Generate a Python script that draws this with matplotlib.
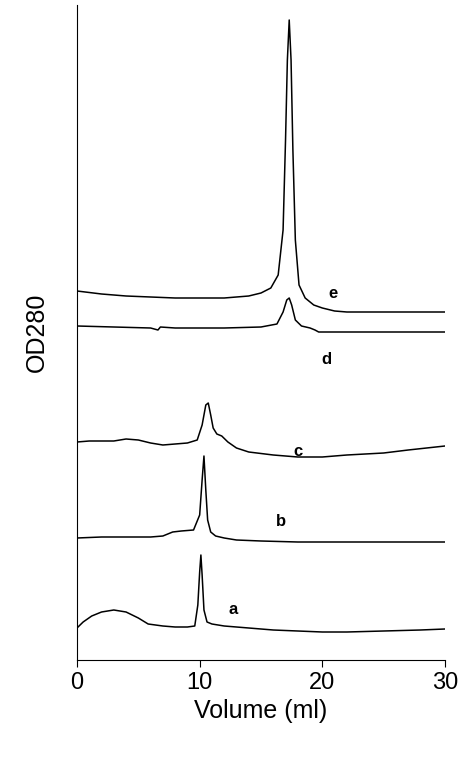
import matplotlib.pyplot as plt

plt.rcParams['font.family'] = ['Liberation Sans', 'DejaVu Sans']

# traces (volume in ml, signal in arbitrary units)
a_x = [0, 0.5, 1.2, 2, 3, 4, 5, 5.8, 7, 8, 9, 9.6, 9.85, 10.0, 10.1, 10.2, 10.35, 10.6, 11, 12, 14, 16, 18, 20, 22, 25, 28, 30]
a_y = [32, 38, 44, 48, 50, 48, 42, 36, 34, 33, 33, 34, 55, 88, 105, 85, 50, 38, 36, 34, 32, 30, 29, 28, 28, 29, 30, 31]

b_x = [0, 2, 4, 6, 7, 7.8, 8.5, 9.5, 10.0, 10.2, 10.35, 10.5, 10.65, 10.9, 11.3, 12, 13, 15, 18, 22, 26, 30]
b_y = [122, 123, 123, 123, 124, 128, 129, 130, 145, 180, 204, 170, 140, 128, 124, 122, 120, 119, 118, 118, 118, 118]

c_x = [0, 1, 2, 3, 4, 5, 6, 7, 8, 9, 9.8, 10.2, 10.5, 10.7, 10.9, 11.1, 11.4, 11.8, 12.3, 13, 14, 16, 18, 20, 22, 25, 27, 30]
c_y = [218, 219, 219, 219, 221, 220, 217, 215, 216, 217, 220, 235, 255, 257, 245, 232, 226, 224, 218, 212, 208, 205, 203, 203, 205, 207, 210, 214]

d_x = [0, 3, 6, 6.6, 6.8, 8, 12, 15, 16.3, 16.8, 17.1, 17.3, 17.5, 17.8, 18.3, 19, 19.4, 19.7, 21, 25, 30]
d_y = [334, 333, 332, 330, 333, 332, 332, 333, 336, 348, 360, 362, 355, 340, 334, 332, 330, 328, 328, 328, 328]

e_x = [0, 2, 4, 6, 8, 10, 12, 14, 15, 15.8, 16.4, 16.8, 17.0, 17.15, 17.3, 17.45, 17.6, 17.8, 18.1, 18.6, 19.3, 20, 21, 22, 25, 30]
e_y = [369, 366, 364, 363, 362, 362, 362, 364, 367, 372, 385, 430, 520, 600, 640, 600, 510, 420, 375, 362, 355, 352, 349, 348, 348, 348]

trace_labels = ['a', 'b', 'c', 'd', 'e']
label_x = [12.7, 16.6, 18.0, 20.3, 20.9]
label_y = [51, 139, 209, 301, 367]

fig = plt.figure(figsize=(4.74, 7.57), dpi=100)
ax = fig.add_axes([77 / 474, 97 / 757, 368 / 474, 655 / 757])

for xs, ys in [(a_x, a_y), (b_x, b_y), (c_x, c_y), (d_x, d_y), (e_x, e_y)]:
    ax.plot(xs, ys, color='black', lw=1.1)

for t, x, y in zip(trace_labels, label_x, label_y):
    ax.text(x, y, t, fontsize=12, fontweight='bold', ha='center', va='center')

ax.set_xlim(0, 30)
ax.set_ylim(0, 655)
ax.set_xticks([0, 10, 20, 30])
ax.set_yticks([])
ax.tick_params(axis='x', labelsize=17, length=5, direction='out')
ax.spines['top'].set_visible(False)
ax.spines['right'].set_visible(False)
ax.set_xlabel('Volume (ml)', fontsize=18)
ax.set_ylabel('OD280', fontsize=18, labelpad=20)

fig.savefig('out.png', dpi=100)
